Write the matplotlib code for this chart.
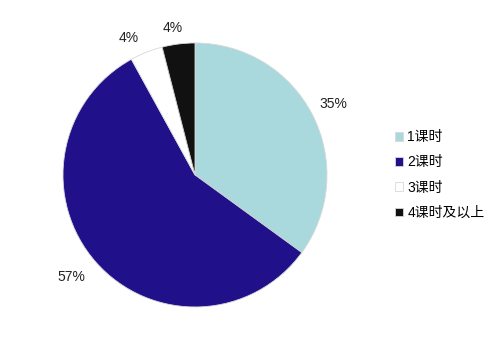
import matplotlib.pyplot as plt

plt.rcParams['font.family'] = ['Liberation Sans', 'Noto Sans CJK SC', 'DejaVu Sans']

labels = ['1课时', '2课时', '3课时', '4课时及以上']
values = [35, 57, 4, 4]
colors = ['#a9d9dc', '#20108a', '#ffffff', '#111111']

fig = plt.figure(figsize=(5, 3.5), dpi=100)
ax = fig.add_axes([0.06, 0.0286, 0.66, 0.943])

wedges, texts, autotexts = ax.pie(
    values, colors=colors, startangle=90, counterclock=False,
    autopct='%d%%', pctdistance=1.18,
    wedgeprops=dict(edgecolor='#d8d8d8', linewidth=0.6),
    textprops=dict(fontsize=10, color='#222222'))

# nudge labels like in the original
x, y = autotexts[1].get_position()
autotexts[1].set_position((x - 0.05, y + 0.01))
x, y = autotexts[2].get_position()
autotexts[2].set_position((x - 0.07, y - 0.06))
x, y = autotexts[3].get_position()
autotexts[3].set_position((x - 0.02, y - 0.06))

ax.set_xlim(-1.25, 1.25)
ax.set_ylim(-1.25, 1.25)

fig.legend(wedges, labels, loc='center left', bbox_to_anchor=(0.765, 0.5),
           frameon=False, fontsize=10, handlelength=0.55, handleheight=0.55,
           handletextpad=0.35, labelspacing=0.8)

fig.savefig('out.png')
